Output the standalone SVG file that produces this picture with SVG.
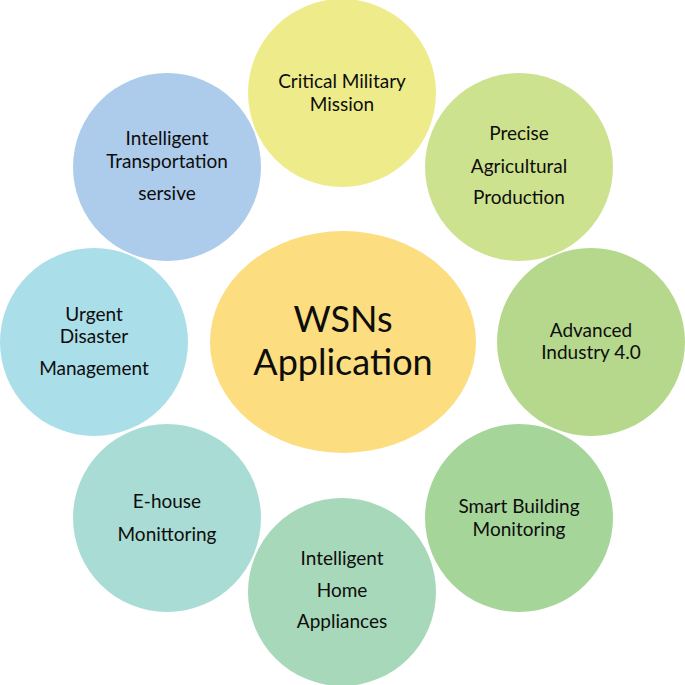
<svg xmlns="http://www.w3.org/2000/svg" width="685" height="685" viewBox="0 0 685 685">
<style>
text{font-family:Lato,"Open Sans","Liberation Sans",sans-serif;fill:#0d0d0d;text-anchor:middle}
.s{font-size:19px}
.b{font-size:36px}
</style>
<rect width="685" height="685" fill="#fff"/>
<g id="connectors"></g>
<g id="critical-military"><circle cx="342" cy="93" r="94" fill="#EEEC8A"/><text class="s" x="342" y="88">Critical Military</text><text class="s" x="342" y="111">Mission</text></g>
<g id="precise-agricultural"><circle cx="519" cy="167" r="94" fill="#CDE28E"/><text class="s" x="519" y="140">Precise</text><text class="s" x="519" y="173">Agricultural</text><text class="s" x="519" y="204">Production</text></g>
<g id="advanced-industry"><circle cx="591" cy="342" r="94" fill="#B5D88D"/><text class="s" x="591" y="337">Advanced</text><text class="s" x="591" y="359">Industry 4.0</text></g>
<g id="smart-building"><circle cx="519" cy="518" r="94" fill="#A6D59A"/><text class="s" x="519" y="513">Smart Building</text><text class="s" x="519" y="536">Monitoring</text></g>
<g id="home-appliances"><circle cx="342" cy="592" r="94" fill="#A7D8BA"/><text class="s" x="342" y="565">Intelligent</text><text class="s" x="342" y="597">Home</text><text class="s" x="342" y="628">Appliances</text></g>
<g id="e-house"><circle cx="167" cy="518" r="94" fill="#A9DCD4"/><text class="s" x="167" y="508">E-house</text><text class="s" x="167" y="541">Monittoring</text></g>
<g id="urgent-disaster"><circle cx="94" cy="342" r="94" fill="#AADEE8"/><text class="s" x="94" y="321">Urgent</text><text class="s" x="94" y="343">Disaster</text><text class="s" x="94" y="375">Management</text></g>
<g id="intelligent-transportation"><circle cx="167" cy="167" r="94" fill="#ADCBEA"/><text class="s" x="167" y="145">Intelligent</text><text class="s" x="167" y="168">Transportation</text><text class="s" x="167" y="200">sersive</text></g>
<g id="wsns-application"><ellipse cx="343" cy="342" rx="133" ry="111" fill="#FCDD80"/><text class="b" x="343" y="332">WSNs</text><text class="b" x="343" y="375">Application</text></g>
</svg>
